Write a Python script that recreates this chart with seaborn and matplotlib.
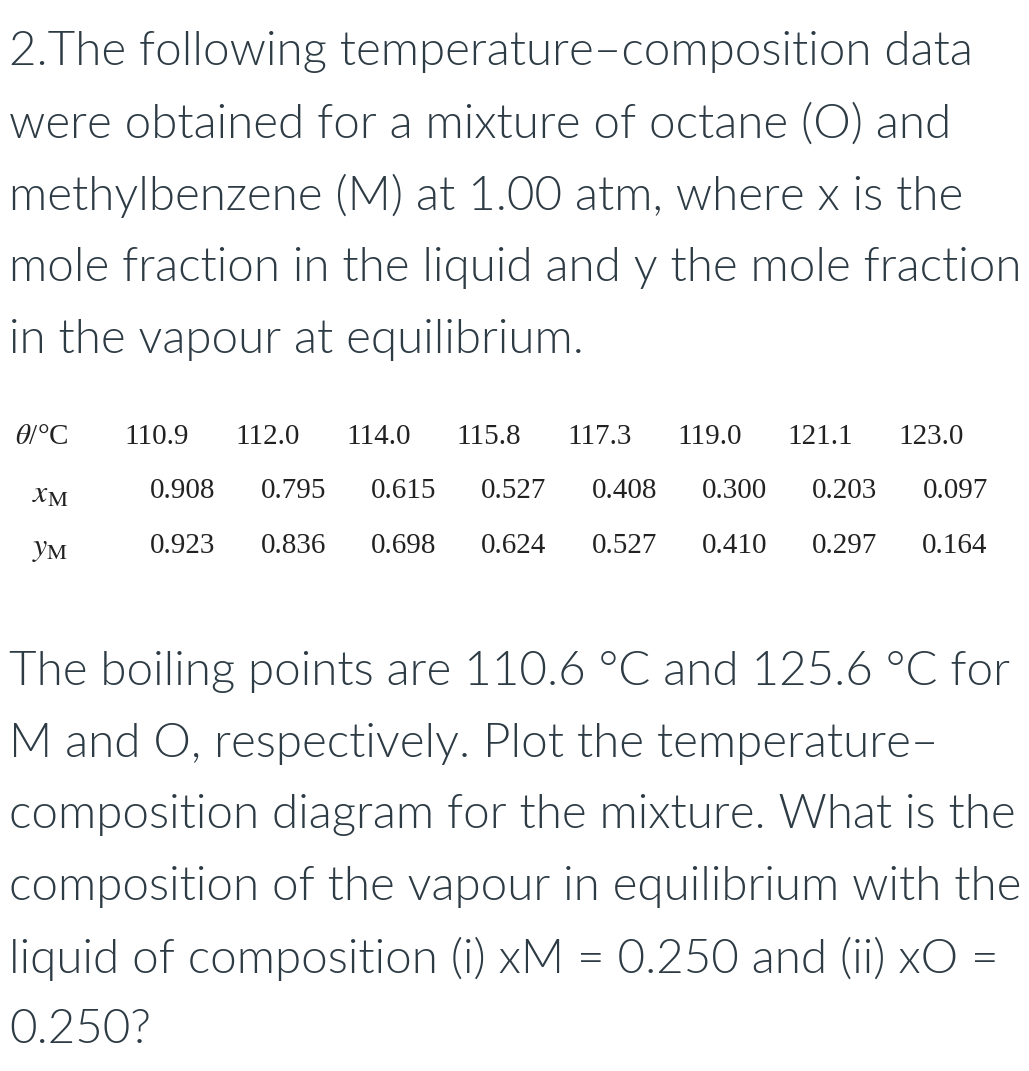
import numpy as np
import matplotlib
matplotlib.use("Agg")
import matplotlib.pyplot as plt
import seaborn as sns

theta = ["110.9", "112.0", "114.0", "115.8", "117.3", "119.0", "121.1", "123.0"]
x_M = ["0.908", "0.795", "0.615", "0.527", "0.408", "0.300", "0.203", "0.097"]
y_M = ["0.923", "0.836", "0.698", "0.624", "0.527", "0.410", "0.297", "0.164"]

para1 = [
    "2.The following temperature\u2013composition data",
    "were obtained for a mixture of octane (O) and",
    "methylbenzene (M) at 1.00 atm, where x is the",
    "mole fraction in the liquid and y the mole fraction",
    "in the vapour at equilibrium.",
]
para2 = [
    "The boiling points are 110.6 \u00b0C and 125.6 \u00b0C for",
    "M and O, respectively. Plot the temperature\u2013",
    "composition diagram for the mixture. What is the",
    "composition of the vapour in equilibrium with the",
    "liquid of composition (i) xM = 0.250 and (ii) xO =",
    "0.250?",
]

sns.set_theme(style="white")
plt.rcParams['font.family'] = ['Lato', 'DejaVu Sans']
plt.rcParams['mathtext.fontset'] = 'stix'

W, H = 1029, 1071
fig = plt.figure(figsize=(W / 100, H / 100), dpi=100)
fig.patch.set_facecolor("white")
ax = fig.add_axes([0, 0, 1, 1])
ax.set_xlim(0, W)
ax.set_ylim(H, 0)
ax.axis("off")

txt_color = "#2d3b45"
for i, line in enumerate(para1):
    ax.text(9, 52 + i * 72, line, fontsize=34.2, color=txt_color, weight=300,
            va="center", ha="left", family=['Lato', 'DejaVu Sans'])
for i, line in enumerate(para2):
    ax.text(9, 672 + i * 71.6, line, fontsize=34.2, color=txt_color, weight=300,
            va="center", ha="left", family=['Lato', 'DejaVu Sans'])

serif = ['Liberation Serif', 'DejaVu Serif']
tcol = "#222222"
ax.text(15, 437, r"$\mathit{\theta}$/\u00b0C".replace(r"\u00b0", "\u00b0"), fontsize=21,
        color=tcol, va="center", ha="left", family=serif)
ax.text(32, 494, r"$x_{\mathrm{M}}$", fontsize=23, color=tcol, va="center", ha="left")
ax.text(32, 549, r"$y_{\mathrm{M}}$", fontsize=23, color=tcol, va="center", ha="left")

tx = 157 + 110.6 * np.arange(len(theta))
vx = 183 + 110.3 * np.arange(len(x_M))
for xp, v in zip(tx, theta):
    ax.text(xp, 437, v, fontsize=21, color=tcol, va="center", ha="center", family=serif)
for xp, v in zip(vx, x_M):
    ax.text(xp, 491, v, fontsize=21, color=tcol, va="center", ha="center", family=serif)
for xp, v in zip(vx, y_M):
    ax.text(xp, 546, v, fontsize=21, color=tcol, va="center", ha="center", family=serif)

fig.savefig("out.png", dpi=100, facecolor="white")
